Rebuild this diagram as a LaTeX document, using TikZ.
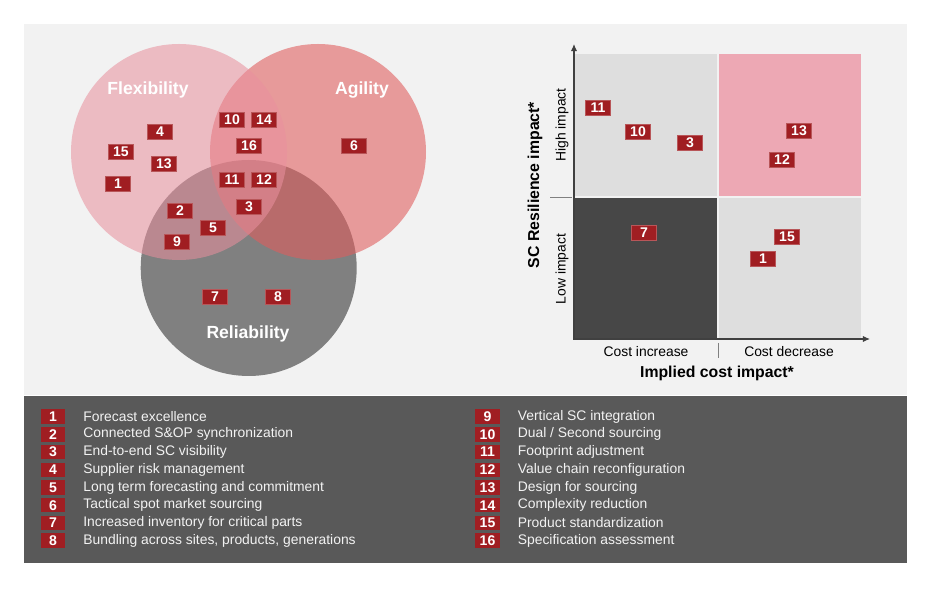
\documentclass[tikz,border=0pt]{standalone}
\usepackage{fontspec}
\setmainfont{Liberation Sans}
\usetikzlibrary{arrows.meta}
\definecolor{panelgray}{RGB}{242,242,242}
\definecolor{legendgray}{RGB}{89,89,89}
\definecolor{boxred}{RGB}{160,30,34}
\definecolor{flexpink}{RGB}{233,144,158}
\definecolor{agired}{RGB}{224,93,93}
\definecolor{relgray}{RGB}{128,128,128}
\definecolor{quadlight}{RGB}{222,222,222}
\definecolor{quaddark}{RGB}{71,71,71}
\definecolor{quadpink}{RGB}{237,168,180}
\definecolor{axisgray}{RGB}{64,64,64}
\tikzset{
  numbox/.style={fill=boxred,text=white,font=\fontsize{8}{9}\selectfont\bfseries,
    minimum width=0.5cm,minimum height=0.29cm,inner sep=0pt},
  mapbox/.style={numbox,draw=boxred!75!white,line width=0.3pt},
  setlabel/.style={text=white,font=\fontsize{10}{12}\selectfont\bfseries},
  smalltext/.style={font=\fontsize{7.9}{9}\selectfont},
  axistitle/.style={font=\fontsize{9}{11}\selectfont\bfseries},
  legtext/.style={smalltext,text=panelgray,anchor=west,inner sep=0pt},
  tickline/.style={draw=gray,line width=0.5pt}
}
\begin{document}
\begin{tikzpicture}[x=0.02cm,y=-0.02cm]
\useasboundingbox (0,0) rectangle (930,590);
\fill[white] (0,0) rectangle (930,590);
\fill[panelgray] (24,24) rectangle (907,395);
\fill[legendgray] (24,396) rectangle (907,563);
% venn
\fill[relgray] (248.7,268) circle[radius=108];
\fill[agired,fill opacity=.59] (318,152) circle[radius=108];
\fill[flexpink,fill opacity=.56] (179,152) circle[radius=108];
\node[setlabel] (flex) at (148,90) {Flexibility};
\node[setlabel] (agil) at (362,90) {Agility};
\node[setlabel] (reli) at (248,334) {Reliability};
\foreach \n/\x/\y in {4/160/132,15/121/152,13/164/164,1/118/184,10/232/120,14/264/120,
  16/249/146,6/354/146,11/232/180,12/264/180,3/249/207,2/180/211,5/213/228,9/177/242,
  7/215/297,8/278/297}
  \node[mapbox] (v\n) at (\x,\y) {\n};
% matrix
\fill[quadlight] (574,54) rectangle (717,196);
\fill[quadpink] (719,54) rectangle (861,196);
\fill[quaddark] (574,198) rectangle (717,339);
\fill[quadlight] (719,198) rectangle (861,339);
\coordinate (orig) at (574,339);
\coordinate (ytip) at (574,44);
\coordinate (xtip) at (870,339);
\draw[axisgray,line width=0.6pt,{Latex[length=4pt,width=3.5pt]}-{Latex[length=4pt,width=3.5pt]}]
  (ytip) -- (orig) -- (xtip);
\coordinate (ytk1) at (550,197);
\coordinate (ytk2) at (572,197);
\coordinate (xtk1) at (718,343);
\coordinate (xtk2) at (718,358);
\draw[tickline] (ytk1) -- (ytk2);
\draw[tickline] (xtk1) -- (xtk2);
\foreach \n/\x/\y in {11/598/108,10/638/132,3/690/143,13/799/131,12/782/160,
  7/644/233,15/787/237,1/763/259}
  \node[mapbox] (m\n) at (\x,\y) {\n};
\node[smalltext,rotate=90] (high) at (562,125) {High impact};
\node[smalltext,rotate=90] (low) at (562,269) {Low impact};
\node[axistitle,rotate=90] (ytitle) at (535,185) {SC Resilience impact*};
\node[smalltext] (cinc) at (646,352) {Cost increase};
\node[smalltext] (cdec) at (789,352) {Cost decrease};
\node[axistitle] (xtitle) at (717,373) {Implied cost impact*};
% legend
\foreach \n/\t [count=\i from 0] in {1/{Forecast excellence},2/{Connected S\&OP synchronization},
  3/{End-to-end SC visibility},4/{Supplier risk management},
  5/{Long term forecasting and commitment},6/{Tactical spot market sourcing},
  7/{Increased inventory for critical parts},8/{Bundling across sites, products, generations}}{
  \node[numbox] (l\n) at (53,{416.7+17.7*\i}) {\n};
  \node[legtext] (t\n) at (83,{416.7+17.7*\i}) {\t};
}
\foreach \n/\t [count=\i from 0] in {9/{Vertical SC integration},10/{Dual / Second sourcing},
  11/{Footprint adjustment},12/{Value chain reconfiguration},13/{Design for sourcing},
  14/{Complexity reduction},15/{Product standardization},16/{Specification assessment}}{
  \node[numbox] (l\n) at (487.5,{416.7+17.7*\i}) {\n};
  \node[legtext] (t\n) at (517.5,{416.7+17.7*\i}) {\t};
}
\end{tikzpicture}
\end{document}
